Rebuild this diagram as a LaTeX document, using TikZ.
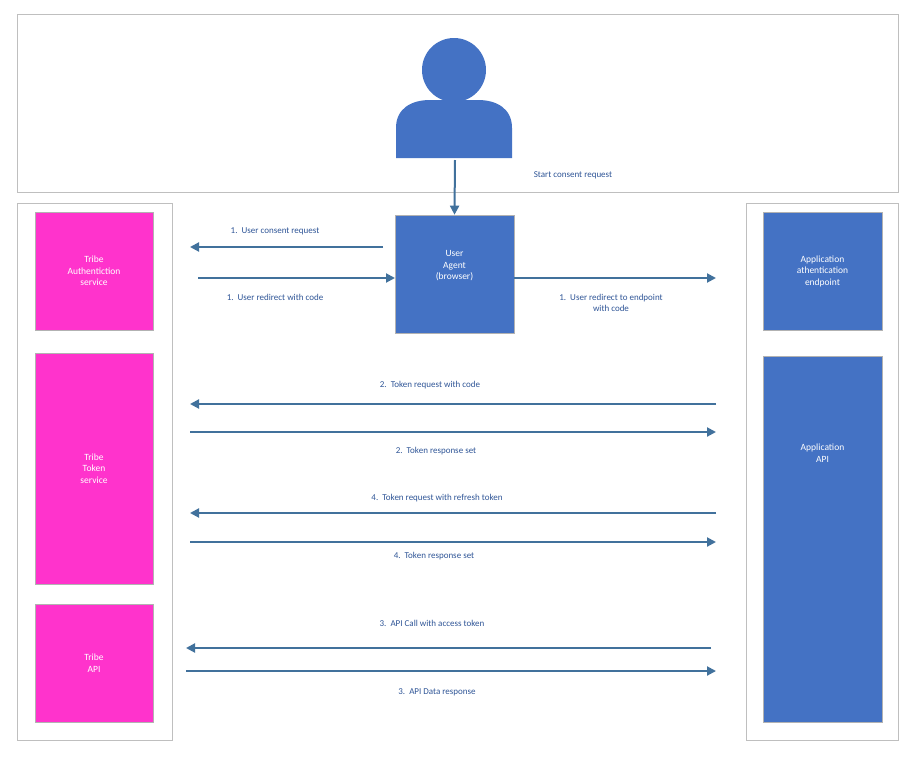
\documentclass[tikz,border=0pt]{standalone}
\usepackage{fontspec}
\setmainfont{Carlito}
\usetikzlibrary{arrows.meta}
\definecolor{ublue}{HTML}{4472C4}
\definecolor{apink}{HTML}{FF33CC}
\definecolor{arr}{HTML}{41719C}
\definecolor{lbl}{HTML}{2F5597}
\begin{document}
\begin{tikzpicture}[x=1pt,y=-1pt,
  panel/.style={draw=black!25,line width=0.8pt},
  pbox/.style={fill=apink,draw=black!30,line width=0.6pt,align=center,text=white,font=\fontsize{9.5}{11.5}\selectfont},
  bbox/.style={fill=ublue,draw=black!30,line width=0.6pt,align=center,text=white,font=\fontsize{9.5}{11.5}\selectfont},
  conn/.style={draw=arr,line width=2pt,-{Triangle[length=9pt,width=9pt]}},
  lab/.style={text=lbl,font=\fontsize{9}{11}\selectfont,align=center}]
\useasboundingbox (0,0) rectangle (914,756);
\fill[white] (0,0) rectangle (914,756);
\draw[panel] (17,14) rectangle (898,192);
\draw[panel] (17,203) rectangle (172,740);
\draw[panel] (746,203) rectangle (898,740);
% pink boxes
\node[pbox,minimum width=118pt,minimum height=118pt] (auth) at (94,271) {Tribe\\Authentiction\\service};
\node[pbox,minimum width=118pt,minimum height=231pt] (tok) at (94,468.5) {Tribe\\Token\\service};
\node[pbox,minimum width=118pt,minimum height=118pt] (tapi) at (94,663) {Tribe\\API};
% blue boxes
\node[bbox,minimum width=119pt,minimum height=118pt] (aep) at (822.5,271) {Application\\athentication\\endpoint};
\node[bbox,minimum width=119pt,minimum height=366pt] (aapi) at (822.5,539) {Application\\API\\[160pt]};
\node[bbox,minimum width=119pt,minimum height=118pt] (ua) at (454.5,274) {User\\Agent\\(browser)\\[6pt]};
% person
\fill[ublue] (454,70) circle (32);
\fill[ublue] (396,158) -- (396,128) .. controls (396,108) and (412,100) .. (430,100) -- (478,100) .. controls (496,100) and (512,108) .. (512,128) -- (512,158) -- cycle;
\coordinate (pb) at (455,160);
\draw[conn] (pb) -- (ua.north);
\node[lab] (start) at (573,175) {Start consent request};
% coordinates
\coordinate (a1s) at (383,247); \coordinate (a1e) at (190,247);
\coordinate (a2s) at (198,278); \coordinate (a2e) at (395,278);
\coordinate (a3s) at (514,278); \coordinate (a3e) at (716,278);
\draw[conn] (a1s) -- (a1e);
\draw[conn] (a2s) -- (a2e);
\draw[conn] (a3s) -- (a3e);
\node[lab] (l1) at (275,231) {1.\ \ User consent request};
\node[lab] (l2) at (275,297) {1.\ \ User redirect with code};
\node[lab] (l3) at (611,303) {1.\ \ User redirect to endpoint\\with code};
\coordinate (b1s) at (716,404); \coordinate (b1e) at (190,404);
\coordinate (b2s) at (190,432); \coordinate (b2e) at (716,432);
\coordinate (b3s) at (716,513); \coordinate (b3e) at (190,513);
\coordinate (b4s) at (190,542); \coordinate (b4e) at (716,542);
\coordinate (b5s) at (711,648); \coordinate (b5e) at (186,648);
\coordinate (b6s) at (186,671); \coordinate (b6e) at (716,671);
\foreach \i in {1,...,6} {\draw[conn] (b\i s) -- (b\i e);}
\node[lab] (m1) at (430,385) {2.\ \ Token request with code};
\node[lab] (m2) at (436,451) {2.\ \ Token response set};
\node[lab] (m3) at (437,498) {4.\ \ Token request with refresh token};
\node[lab] (m4) at (434,556) {4.\ \ Token response set};
\node[lab] (m5) at (432,623) {3.\ \ API Call with access token};
\node[lab] (m6) at (437,692) {3.\ \ API Data response};
\end{tikzpicture}
\end{document}
